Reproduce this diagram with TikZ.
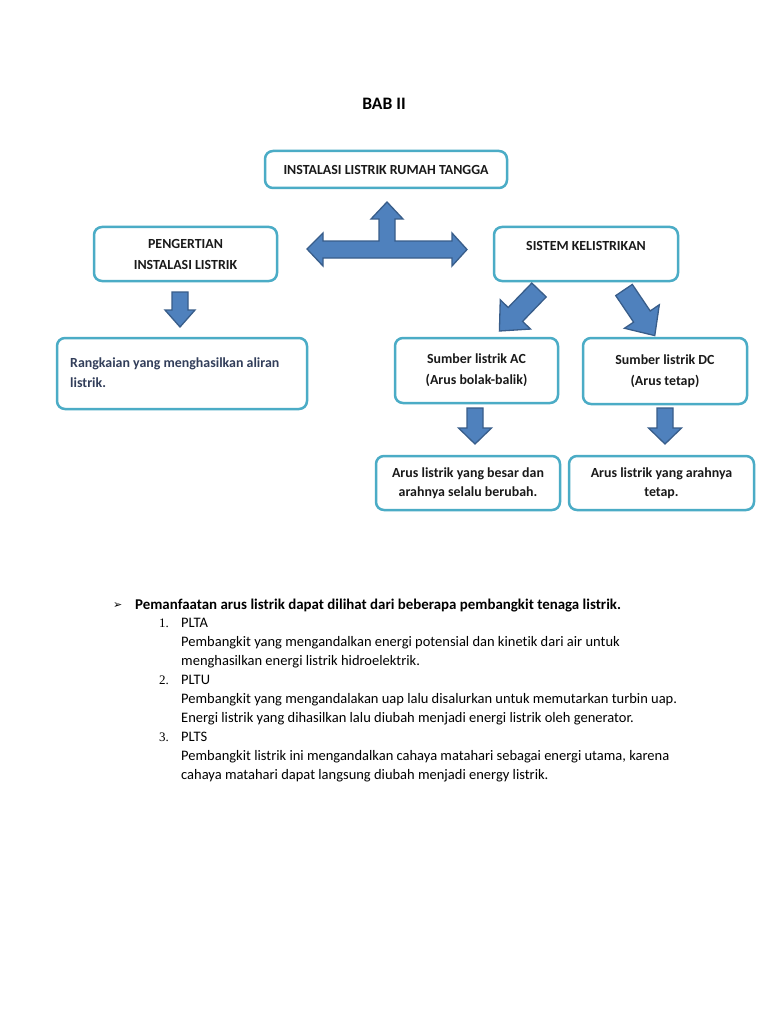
\documentclass[tikz,border=0pt]{standalone}
\usepackage{fontspec}
\setmainfont{Carlito}[Ligatures=NoCommon]
\newfontfamily\numfont{Liberation Serif}
\newfontfamily\symfont{DejaVu Sans}
\definecolor{bord}{HTML}{4BACC6}
\definecolor{afill}{HTML}{4F81BD}
\definecolor{aedge}{HTML}{385D8A}
\definecolor{txt}{HTML}{1A1A1A}
\definecolor{slate}{HTML}{323E5A}
\tikzset{
  blkstyle/.style={fill=afill, draw=aedge, line width=1.3pt, line join=miter},
  pics/blk/.style args={#1/#2/#3/#4}{code={
    \draw[blkstyle] (0,-#2/2) -- (#1-#4,-#2/2) -- (#1-#4,-#3/2) -- (#1,0)
      -- (#1-#4,#3/2) -- (#1-#4,#2/2) -- (0,#2/2) -- cycle;
  }},
  box/.style={draw=bord, line width=2.5pt, rounded corners=8pt, fill=white,
    inner sep=0pt, font=\bfseries\fontsize{13.9}{21}\selectfont, align=center, text=txt},
  boxtext/.style={inner sep=0pt, font=\bfseries\fontsize{13.9}{20}\selectfont, text=txt},
  txtline/.style={anchor=base west, inner sep=0pt, font=\fontsize{14.5}{19}\selectfont, text=black},
}
\begin{document}
\begin{tikzpicture}[x=1pt,y=-1pt]
\useasboundingbox[fill=white] (0,0) rectangle (768,1024);

\node[inner sep=0pt, font=\bfseries\fontsize{17.5}{20}\selectfont, anchor=base] (title) at (384,110) {BAB II};

% boxes
\node[box, minimum width=242, minimum height=37] (top) at (386,169.5) {INSTALASI LISTRIK RUMAH TANGGA};
\node[box, minimum width=183, minimum height=54] (peng) at (185.5,254) {PENGERTIAN\\INSTALASI LISTRIK};
\node[box, minimum width=184, minimum height=54] (sis) at (586,254) {};
\node[boxtext, anchor=base] (sistxt) at (586,250) {SISTEM KELISTRIKAN};
\node[box, minimum width=250, minimum height=71] (rang) at (182,373.5) {};
\node[boxtext, text=slate, align=left, anchor=west] (rangtxt) at (70,373) {Rangkaian yang menghasilkan aliran\\listrik.};
\node[box, minimum width=163, minimum height=65] (ac) at (476.5,370.5) {Sumber listrik AC\\(Arus bolak-balik)};
\node[box, minimum width=164, minimum height=66] (dc) at (665,371) {Sumber listrik DC\\(Arus tetap)};
\node[box, minimum width=184, minimum height=54, font=\bfseries\fontsize{13.9}{19}\selectfont] (aac) at (468,483) {Arus listrik yang besar dan\\arahnya selalu berubah.};
\node[box, minimum width=185, minimum height=54, font=\bfseries\fontsize{13.9}{19}\selectfont] (adc) at (661.5,483) {Arus listrik yang arahnya\\tetap.};

% three-way arrow
\draw[blkstyle] (307,249) -- (323,233) -- (323,241) -- (379,241) -- (379,219) -- (371,219)
  -- (387,202) -- (403,219) -- (395,219) -- (395,241) -- (452,241) -- (452,233)
  -- (467,249.5) -- (452,266) -- (452,258) -- (323,258) -- (323,266) -- cycle;

% block arrows
\pic[rotate=-90] at (180,292) {blk=35/16/30/17};
\pic[rotate=-90] at (475,408) {blk=36/16/33/16};
\pic[rotate=-90] at (665,408) {blk=36/16/33/16};
\pic[rotate=-134] at (539,290) {blk=57/20/42/23};
\pic[rotate=-56] at (624,290) {blk=55/20/42/23};

% bottom text
\node[inner sep=0pt, anchor=base west, font=\symfont\bfseries\fontsize{11}{12}\selectfont] (bul) at (113,608.5) {➢};
\node[txtline, font=\bfseries\fontsize{14.9}{19}\selectfont] (l0) at (135,609) {Pemanfaatan arus listrik dapat dilihat dari beberapa pembangkit tenaga listrik.};
\node[txtline, font=\numfont\fontsize{13}{19}\selectfont] (n1) at (159,627.5) {1.};
\node[txtline] (l1) at (181,627.5) {PLTA};
\node[txtline] (l2) at (181,646.5) {Pembangkit yang mengandalkan energi potensial dan kinetik dari air untuk};
\node[txtline] (l3) at (181,665.5) {menghasilkan energi listrik hidroelektrik.};
\node[txtline, font=\numfont\fontsize{13}{19}\selectfont] (n2) at (159,684.5) {2.};
\node[txtline] (l4) at (181,684.5) {PLTU};
\node[txtline] (l5) at (181,703.5) {Pembangkit yang mengandalakan uap lalu disalurkan untuk memutarkan turbin uap.};
\node[txtline] (l6) at (181,722.5) {Energi listrik yang dihasilkan lalu diubah menjadi energi listrik oleh generator.};
\node[txtline, font=\numfont\fontsize{13}{19}\selectfont] (n3) at (159,741.5) {3.};
\node[txtline] (l7) at (181,741.5) {PLTS};
\node[txtline] (l8) at (181,760.5) {Pembangkit listrik ini mengandalkan cahaya matahari sebagai energi utama, karena};
\node[txtline] (l9) at (181,779.5) {cahaya matahari dapat langsung diubah menjadi energy listrik.};
\end{tikzpicture}
\end{document}
